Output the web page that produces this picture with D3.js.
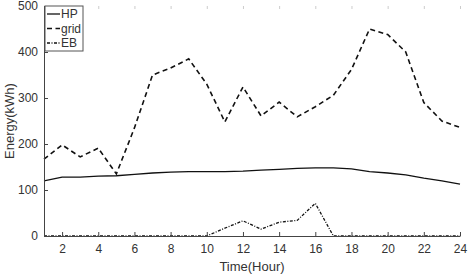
<!DOCTYPE html>
<html><head><meta charset="utf-8">
<script src="https://cdn.jsdelivr.net/npm/d3@7"></script>
<style>body{margin:0;background:#fff}svg{display:block}text{font-family:"Liberation Sans",Arial,sans-serif}</style>
</head><body>
<svg id="c" width="474" height="274"></svg>
<script>
const hours = [1,2,3,4,5,6,7,8,9,10,11,12,13,14,15,16,17,18,19,20,21,22,23,24];
const hp   = [120,128,128,130,131,134,137,139,140,140,140,141,143,145,147,148,148,146,140,137,133,126,120,113];
const grid = [167,198,172,191,135,235,350,365,385,330,248,324,261,291,259,281,306,362,450,438,400,290,250,236];
const eb   = [0,0,0,0,0,0,0,0,0,0,17,33,15,30,34,71,0,0,0,0,0,0,0,0];
const xTicks = [2,4,6,8,10,12,14,16,18,20,22,24];
const yTicks = [0,100,200,300,400,500];
const seriesNames = ["HP","grid","EB"];

const svg = d3.select("#c");
const x = d3.scaleLinear().domain([1,24]).range([44,460]);
const y = d3.scaleLinear().domain([0,500]).range([236,6]);
const txt = "#333";

svg.append("g").attr("transform","translate(0,6)")
  .call(d3.axisTop(x).tickValues(xTicks).tickSize(-3).tickFormat(""))
  .call(g=>{g.select(".domain").remove();g.selectAll("line").attr("stroke","#ccc");});

const series = [
  {name:"HP", vals:hp, dash:null, w:1.3},
  {name:"grid", vals:grid, dash:"5,3.5", w:1.6},
  {name:"EB", vals:eb, dash:"3,1.5,1,1.5", w:1.3}
];
const line = d3.line().x((d,i)=>x(hours[i])).y(d=>y(d));
series.forEach(s=>{
  svg.append("path").datum(s.vals).attr("d",line).attr("fill","none")
    .attr("stroke","#111").attr("stroke-width",s.w).attr("stroke-dasharray",s.dash);
});

const gx = svg.append("g").attr("transform","translate(0,236)")
  .call(d3.axisBottom(x).tickValues(xTicks).tickSize(-4).tickPadding(8).tickSizeOuter(0));
const gy = svg.append("g").attr("transform","translate(44,0)")
  .call(d3.axisLeft(y).tickValues(yTicks).tickSize(-4).tickPadding(6).tickSizeOuter(0));
[gx,gy].forEach(g=>{
  g.select(".domain").attr("stroke","#444");
  g.selectAll("line").attr("stroke","#444");
  g.selectAll("text").attr("fill",txt).style("font-size","12px");
});

svg.append("text").attr("x",252).attr("y",271).attr("text-anchor","middle")
  .attr("fill",txt).style("font-size","13px").text("Time(Hour)");
svg.append("text").attr("transform","translate(14,121) rotate(-90)").attr("text-anchor","middle")
  .attr("fill",txt).style("font-size","13px").text("Energy(kWh)");

const lg = svg.append("g");
lg.append("rect").attr("x",45).attr("y",6).attr("width",38).attr("height",45)
  .attr("fill","#fff").attr("stroke","#555").attr("stroke-width",1);
series.forEach((s,i)=>{
  const yy = 14 + i*14.5;
  lg.append("line").attr("x1",47).attr("x2",60).attr("y1",yy).attr("y2",yy)
    .attr("stroke","#111").attr("stroke-width",s.w).attr("stroke-dasharray",s.dash);
  lg.append("text").attr("x",61).attr("y",yy+4).attr("fill",txt)
    .style("font-size","12px").text(seriesNames[i]);
});
</script>
</body></html>
